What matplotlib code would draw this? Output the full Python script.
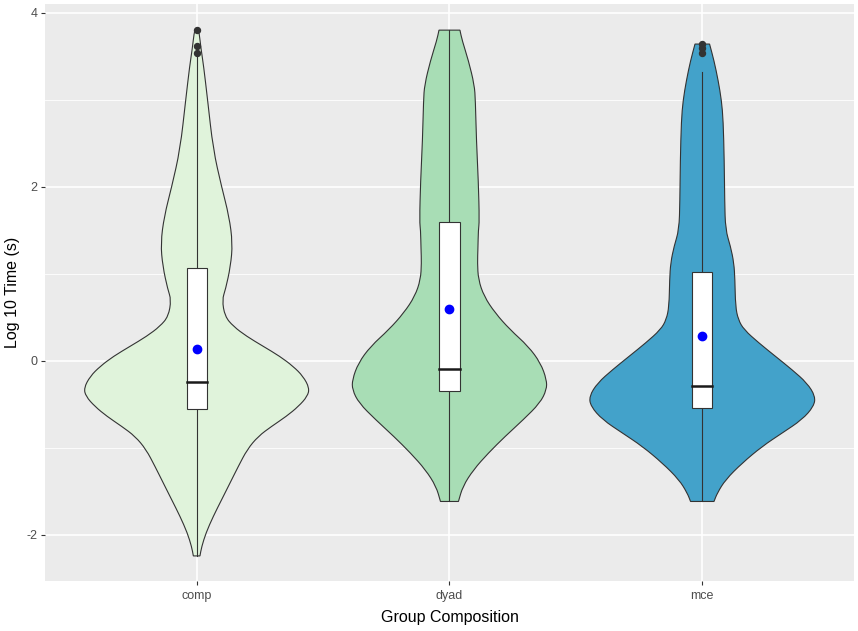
import numpy as np
import matplotlib.pyplot as plt
from matplotlib.path import Path
from matplotlib.patches import PathPatch

plt.rcParams['font.family'] = ['Liberation Sans', 'DejaVu Sans']
plt.rcParams['axes.unicode_minus'] = False

groups = ['comp', 'dyad', 'mce']
fills = ['#E0F3DB', '#A8DDB5', '#43A2CA']

# --- violin outlines (y value, relative density, 1 = widest) ---
comp_y = [3.80, 3.77, 3.58, 3.39, 3.00, 2.43, 2.00, 1.66, 1.35, 1.085, 0.82, 0.70,
          0.51, 0.395, 0.28, 0.165, 0.05, -0.065, -0.18, -0.315, -0.41, -0.526,
          -0.64, -0.756, -0.87, -1.02, -1.216, -1.41, -1.60, -1.79, -1.98, -2.14, -2.245]
comp_dens = [0.013, 0.022, 0.039, 0.061, 0.096, 0.145, 0.219, 0.285, 0.316, 0.298, 0.254, 0.224,
             0.248, 0.322, 0.439, 0.585, 0.731, 0.848, 0.936, 0.991, 0.974, 0.895,
             0.789, 0.658, 0.541, 0.445, 0.366, 0.292, 0.219, 0.146, 0.082, 0.044, 0.029]

dyad_y = [3.80, 3.68, 3.45, 3.17, 2.99, 2.53, 2.06, 1.60, 1.507, 1.28, 1.124, 0.932,
          0.74, 0.549, 0.357, 0.165, -0.027, -0.219, -0.334, -0.487, -0.679, -0.871,
          -1.062, -1.254, -1.446, -1.619]
dyad_dens = [0.092, 0.112, 0.167, 0.219, 0.228, 0.237, 0.254, 0.263, 0.254, 0.250, 0.246, 0.254,
             0.304, 0.401, 0.532, 0.693, 0.801, 0.854, 0.854, 0.796, 0.649, 0.489,
             0.342, 0.211, 0.117, 0.079]

mce_y = [3.64, 3.45, 3.22, 2.99, 2.76, 2.30, 1.83, 1.507, 1.315, 1.124, 0.932, 0.625,
         0.472, 0.357, 0.204, 0.05, -0.104, -0.257, -0.41, -0.526, -0.679, -0.832,
         -0.986, -1.177, -1.369, -1.522, -1.619]
mce_dens = [0.064, 0.103, 0.140, 0.169, 0.184, 0.193, 0.197, 0.204, 0.248, 0.278, 0.287, 0.292,
            0.316, 0.366, 0.497, 0.643, 0.789, 0.921, 0.994, 0.980, 0.877, 0.702,
            0.526, 0.351, 0.204, 0.132, 0.103]

# --- boxplot summaries ---
q1 = [-0.56, -0.35, -0.545]
medians = [-0.245, -0.10, -0.288]
q3 = [1.07, 1.59, 1.02]
whis_lo = [-2.245, -1.619, -1.619]
whis_hi = [3.50, 3.80, 3.32]
means = [0.135, 0.598, 0.288]
outliers = [[3.80, 3.62, 3.54], [], [3.64, 3.59, 3.54]]

profiles = [(comp_y, comp_dens), (dyad_y, dyad_dens), (mce_y, mce_dens)]


def side(pts, first):
    # quadratic bezier through midpoints, read points act as control points
    verts, codes = [pts[0]], [Path.MOVETO if first else Path.LINETO]
    verts.append((pts[0] + pts[1]) / 2)
    codes.append(Path.LINETO)
    for k in range(1, len(pts) - 1):
        verts += [pts[k], (pts[k] + pts[k + 1]) / 2]
        codes += [Path.CURVE3, Path.CURVE3]
    verts.append(pts[-1])
    codes.append(Path.LINETO)
    return verts, codes


fig = plt.figure(figsize=(8.58, 6.31), dpi=100)
ax = fig.add_axes([0.0524, 0.0797, 0.9429, 0.9139])
ax.set_facecolor('#EBEBEB')
for s in ax.spines.values():
    s.set_visible(False)

# grid like ggplot theme_grey
for v in [-1, 1, 3]:
    ax.axhline(v, color='white', lw=0.6, zorder=0)
for v in [-2, 0, 2, 4]:
    ax.axhline(v, color='white', lw=1.2, zorder=0)
for i in range(len(groups)):
    ax.axvline(i + 1, color='white', lw=1.2, zorder=0)

half = 0.45   # violin width 0.9
bw = 0.04     # half box width
for i, (ys, ds) in enumerate(profiles):
    x = i + 1
    ys = np.array(ys)
    ds = np.array(ds) * half
    right = np.column_stack([x + ds, ys])
    left = np.column_stack([x - ds, ys])[::-1]
    v1, c1 = side(right, True)
    v2, c2 = side(left, False)
    verts = v1 + v2 + [right[0]]
    codes = c1 + c2 + [Path.CLOSEPOLY]
    ax.add_patch(PathPatch(Path(np.array(verts), codes), facecolor=fills[i],
                           edgecolor='#333333', lw=0.8, zorder=2))
    # whiskers
    ax.plot([x, x], [q3[i], whis_hi[i]], color='#333333', lw=0.8, zorder=3)
    ax.plot([x, x], [whis_lo[i], q1[i]], color='#333333', lw=0.8, zorder=3)
    # box
    ax.add_patch(plt.Rectangle((x - bw, q1[i]), 2 * bw, q3[i] - q1[i],
                               facecolor='white', edgecolor='#333333', lw=0.8, zorder=3))
    ax.plot([x - bw, x + bw], [medians[i], medians[i]], color='#1a1a1a', lw=1.8, zorder=4)
    if outliers[i]:
        ax.plot([x] * len(outliers[i]), outliers[i], 'o', color='#333333',
                markersize=4.3, zorder=4)
    ax.plot(x, means[i], 'o', color='#0000FF', markersize=6, zorder=5)

ax.set_xlim(0.4, 3.6)
ax.set_ylim(-2.53, 4.10)
ax.set_xticks([1, 2, 3])
ax.set_xticklabels(groups)
ax.set_yticks([-2, 0, 2, 4])
ax.tick_params(axis='both', colors='#333333', labelcolor='#4D4D4D', labelsize=9,
               length=3, width=0.8, pad=2.5)
ax.tick_params(axis='x', pad=4)

ax.set_xlabel('Group Composition', fontsize=11.5, color='black')
ax.set_ylabel('Log 10 Time (s)', fontsize=11.5, color='black')
ax.xaxis.set_label_coords(0.5, -0.05)
ax.yaxis.set_label_coords(-0.031, 0.5)

fig.savefig('out.png', dpi=100)
